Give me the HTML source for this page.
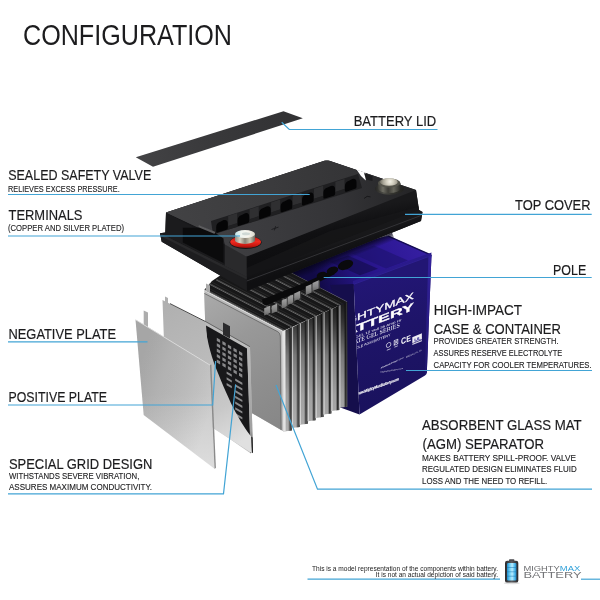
<!DOCTYPE html>
<html lang="en"><head><meta charset="utf-8"><title>Configuration</title>
<style>
html,body{margin:0;padding:0;background:#fff;}
body{width:600px;height:600px;overflow:hidden;font-family:'Liberation Sans', sans-serif;}
svg{display:block;will-change:transform;}
.t{font-family:'Liberation Sans', sans-serif;fill:#1c1c1e;stroke:#1c1c1e;stroke-width:.18px;}
.tt{stroke:none;}
.s{fill:#1c1c1e;stroke-width:.12px;}
.f{fill:#222;stroke:none;}
</style></head><body>
<svg width="600" height="600" viewBox="0 0 600 600">
<defs><linearGradient id="gLid" gradientUnits="userSpaceOnUse" x1="136" y1="160" x2="302" y2="115"><stop offset="0" stop-color="#434345"/><stop offset="0.5" stop-color="#38383a"/><stop offset="1" stop-color="#323234"/></linearGradient><linearGradient id="gCaseTop" gradientUnits="userSpaceOnUse" x1="320" y1="290" x2="425" y2="245"><stop offset="0" stop-color="#110a46"/><stop offset="0.3" stop-color="#22137a"/><stop offset="0.6" stop-color="#2c1794"/><stop offset="1" stop-color="#361fa2"/></linearGradient><clipPath id="cCT"><polygon points="280,262 388.3,235.8 431.5,255 353.7,285 280,305"/></clipPath><linearGradient id="gShd" gradientUnits="userSpaceOnUse" x1="330" y1="257.6" x2="333" y2="265"><stop offset="0" stop-color="#05030f"/><stop offset="1" stop-color="#05030f"/></linearGradient><linearGradient id="gShdO" gradientUnits="userSpaceOnUse" x1="330" y1="257" x2="333.2" y2="265"><stop offset="0" stop-color="#06041a" stop-opacity=".9"/><stop offset="1" stop-color="#06041a" stop-opacity="0"/></linearGradient><linearGradient id="gCaseF" gradientUnits="userSpaceOnUse" x1="375" y1="280" x2="400" y2="400"><stop offset="0" stop-color="#221674"/><stop offset="0.4" stop-color="#1e1469"/><stop offset="1" stop-color="#1a125e"/></linearGradient><linearGradient id="gCaseE" gradientUnits="userSpaceOnUse" x1="0" y1="256" x2="0" y2="375"><stop offset="0" stop-color="#33229c"/><stop offset="0.5" stop-color="#2a1c88"/><stop offset="1" stop-color="#20166c"/></linearGradient><clipPath id="cFace"><polygon points="354.2,283.5 431,255.5 426.8,375 359.5,414.5"/></clipPath><linearGradient id="gFin" gradientUnits="userSpaceOnUse" x1="0" y1="300" x2="0" y2="432"><stop offset="0" stop-color="#171717"/><stop offset="0.16" stop-color="#333333"/><stop offset="0.42" stop-color="#787878"/><stop offset="0.72" stop-color="#a0a0a0"/><stop offset="1" stop-color="#b0b0b0"/></linearGradient><linearGradient id="gFinL" gradientUnits="userSpaceOnUse" x1="0" y1="300" x2="0" y2="432"><stop offset="0" stop-color="#9a9a9a"/><stop offset="0.4" stop-color="#c4c4c4"/><stop offset="1" stop-color="#d8d8d8"/></linearGradient><clipPath id="cTop"><polygon points="204.3,290 283,331 347.5,301.6 292,273 240,262 212,281"/></clipPath><linearGradient id="gFinD" gradientUnits="userSpaceOnUse" x1="0" y1="300" x2="0" y2="432"><stop offset="0" stop-color="#0e0e0e"/><stop offset="0.5" stop-color="#1c1c1c"/><stop offset="1" stop-color="#3a3a3a"/></linearGradient><linearGradient id="gTab" gradientUnits="objectBoundingBox" x1="0" y1="0" x2="0" y2="1"><stop offset="0" stop-color="#a4a4a4"/><stop offset="0.6" stop-color="#858585"/><stop offset="1" stop-color="#666"/></linearGradient><linearGradient id="gSep" gradientUnits="userSpaceOnUse" x1="210" y1="295" x2="290" y2="420"><stop offset="0" stop-color="#a9a9a9"/><stop offset="0.35" stop-color="#989898"/><stop offset="0.7" stop-color="#8e8e8e"/><stop offset="1" stop-color="#878787"/></linearGradient><linearGradient id="gPosE" gradientUnits="userSpaceOnUse" x1="0" y1="347" x2="0" y2="452"><stop offset="0" stop-color="#b9b9b9"/><stop offset="0.8" stop-color="#a0a0a0"/><stop offset="1" stop-color="#3a3a3a"/></linearGradient><linearGradient id="gPos" gradientUnits="userSpaceOnUse" x1="165" y1="305" x2="245" y2="440"><stop offset="0" stop-color="#b0b0b0"/><stop offset="0.45" stop-color="#bbbbbb"/><stop offset="0.75" stop-color="#c8c8c8"/><stop offset="1" stop-color="#e0e0e0"/></linearGradient><linearGradient id="gSh" gradientUnits="objectBoundingBox" x1="0" y1="0" x2="1" y2="0"><stop offset="0" stop-color="#000"/><stop offset="1" stop-color="#000"/></linearGradient><linearGradient id="gNeg" gradientUnits="userSpaceOnUse" x1="136" y1="375" x2="214" y2="402"><stop offset="0" stop-color="#b4b4b4"/><stop offset="0.3" stop-color="#c0c0c0"/><stop offset="0.65" stop-color="#cbcbcb"/><stop offset="1" stop-color="#dadada"/></linearGradient><linearGradient id="gNegV" gradientUnits="userSpaceOnUse" x1="0" y1="320" x2="0" y2="468"><stop offset="0" stop-color="#000"/><stop offset="0.5" stop-color="#000"/><stop offset="1" stop-color="#fff"/></linearGradient><linearGradient id="gRF" gradientUnits="userSpaceOnUse" x1="330" y1="215" x2="336" y2="245"><stop offset="0" stop-color="#19191b"/><stop offset="0.5" stop-color="#101012"/><stop offset="1" stop-color="#0e0e10"/></linearGradient><linearGradient id="gRefl" gradientUnits="objectBoundingBox" x1="0" y1="0" x2="0" y2="1"><stop offset="0" stop-color="#2a2a2c"/><stop offset="1" stop-color="#1a1a1c"/></linearGradient><linearGradient id="gFl" gradientUnits="userSpaceOnUse" x1="330" y1="245" x2="334" y2="258"><stop offset="0" stop-color="#18181a"/><stop offset="0.35" stop-color="#131315"/><stop offset="1" stop-color="#0f0f11"/></linearGradient><linearGradient id="gTop" gradientUnits="userSpaceOnUse" x1="170" y1="215" x2="410" y2="190"><stop offset="0" stop-color="#414144"/><stop offset="0.35" stop-color="#3c3c3f"/><stop offset="0.7" stop-color="#343437"/><stop offset="1" stop-color="#252527"/></linearGradient><linearGradient id="gPlat" gradientUnits="userSpaceOnUse" x1="170" y1="215" x2="355" y2="172"><stop offset="0" stop-color="#424244"/><stop offset="0.5" stop-color="#3c3c3e"/><stop offset="1" stop-color="#343436"/></linearGradient><linearGradient id="gW2" gradientUnits="userSpaceOnUse" x1="375" y1="0" x2="404" y2="0"><stop offset="0" stop-color="#262624"/><stop offset="0.3" stop-color="#4c4c46"/><stop offset="0.6" stop-color="#34342f"/><stop offset="1" stop-color="#222220"/></linearGradient><linearGradient id="gB2" gradientUnits="userSpaceOnUse" x1="378" y1="0" x2="400.5" y2="0"><stop offset="0" stop-color="#3a3a35"/><stop offset="0.22" stop-color="#6e6d63"/><stop offset="0.45" stop-color="#3d3c36"/><stop offset="0.7" stop-color="#66655b"/><stop offset="1" stop-color="#2c2c28"/></linearGradient><radialGradient id="gB2t" gradientUnits="userSpaceOnUse" cx="390" cy="181.6" r="8.5"><stop offset="0" stop-color="#f4f1e6"/><stop offset="0.4" stop-color="#d5d1c2"/><stop offset="0.8" stop-color="#aaa698"/><stop offset="1" stop-color="#8b887b"/></radialGradient><linearGradient id="gRed" gradientUnits="userSpaceOnUse" x1="0" y1="236" x2="0" y2="248.5"><stop offset="0" stop-color="#b51a14"/><stop offset="0.45" stop-color="#ef2a20"/><stop offset="0.8" stop-color="#c4160f"/><stop offset="1" stop-color="#6e0d0a"/></linearGradient><linearGradient id="gB1" gradientUnits="userSpaceOnUse" x1="235" y1="0" x2="255" y2="0"><stop offset="0" stop-color="#8f8f86"/><stop offset="0.25" stop-color="#d7d2c2"/><stop offset="0.5" stop-color="#8b8578"/><stop offset="0.75" stop-color="#c9c2ae"/><stop offset="1" stop-color="#6d6a62"/></linearGradient><linearGradient id="gB1t" gradientUnits="userSpaceOnUse" x1="235" y1="0" x2="255" y2="0"><stop offset="0" stop-color="#bfe3ea"/><stop offset="0.3" stop-color="#eef3ee"/><stop offset="0.65" stop-color="#f8f6ee"/><stop offset="1" stop-color="#d9d6cb"/></linearGradient><linearGradient id="gLgB" gradientUnits="userSpaceOnUse" x1="505" y1="0" x2="518.3" y2="0"><stop offset="0" stop-color="#2a2a2c"/><stop offset="0.5" stop-color="#5a5a5e"/><stop offset="1" stop-color="#2a2a2c"/></linearGradient><linearGradient id="gLgC" gradientUnits="userSpaceOnUse" x1="507" y1="0" x2="516.4" y2="0"><stop offset="0" stop-color="#1f8fd0"/><stop offset="0.3" stop-color="#6fd0f6"/><stop offset="0.55" stop-color="#b8ecff"/><stop offset="0.8" stop-color="#54bdee"/><stop offset="1" stop-color="#1f86c6"/></linearGradient></defs>
<polygon points="135.8,157.2 283.5,111.2 302.8,118.3 153.0,166.8" fill="url(#gLid)"/>
<polygon points="280.0,262.0 388.3,235.8 431.5,255.0 431.0,258.0 353.7,285.0 350.0,305.0 280.0,305.0" fill="url(#gCaseTop)"/>
<g clip-path="url(#cCT)">
<polygon points="352.0,253.5 374.0,245.6 408.0,260.5 386.0,268.5" fill="#1b126a" opacity="0.55"/>
<polygon points="396.0,238.0 412.0,232.2 442.0,245.4 426.0,251.2" fill="#1f1474" opacity="0.4"/>
<polygon points="330.0,262.0 348.0,255.5 378.0,268.7 360.0,275.2" fill="#120b4a" opacity="0.6"/>
</g>
<path d="M388.3 236.2L431.3 255.2" stroke="#140c52" stroke-width="1.4" fill="none"/>
<polygon points="285.0,275.7 392.0,232.7 395.0,240.0 288.0,284.0" fill="url(#gShdO)"/>
<polygon points="353.0,281.0 431.5,252.5 431.0,256.0 353.0,284.5" fill="#2a1a8c"/>
<polygon points="339.0,290.0 353.7,284.0 359.5,414.5 339.0,407.0" fill="#150e4c"/>
<polygon points="330.0,285.0 353.7,284.0 353.0,310.0 339.0,310.0" fill="#150e4c"/>
<path d="M353.7 284L431.5 255L426.8 372.5Q426.7 374.6 425 375.6L359.5 414.5Z" fill="url(#gCaseF)"/>
<polygon points="428.4,256.2 431.5,255.0 426.8,373.0 424.8,374.2" fill="url(#gCaseE)"/>
<path d="M353.7 284.3L431.3 255.5" stroke="#2f2092" stroke-width="1.2" fill="none"/>
<g clip-path="url(#cFace)">
<text transform="matrix(1 -0.392 0 1 413.8 298.6)" font-family="'Liberation Sans', sans-serif" font-weight="normal" font-size="9.4" text-anchor="end" fill="#fff" textLength="82.5" lengthAdjust="spacingAndGlyphs" stroke="#fff" stroke-width=".25">MIGHTYMAX</text>
<text transform="matrix(1 -0.392 0 1 413.8 309.6)" font-family="'Liberation Sans', sans-serif" font-weight="bold" font-size="10.3" text-anchor="end" fill="#fff" textLength="81.5" lengthAdjust="spacingAndGlyphs" stroke="#fff" stroke-width=".3">BATTERY</text>
<text transform="matrix(1 -0.377 0 1 401.5 320.9)" font-family="'Liberation Sans', sans-serif" font-weight="normal" font-size="3.2" text-anchor="end" fill="#fff" textLength="64" lengthAdjust="spacingAndGlyphs">ML35-12GEL  12 Volt 35 Amp Hr</text>
<text transform="matrix(1 -0.38 0 1 399.8 326.7)" font-family="'Liberation Serif', serif" font-weight="normal" font-size="5.9" text-anchor="end" fill="#fff" textLength="53" lengthAdjust="spacingAndGlyphs">PLATE GEL SERIES</text>
<text transform="matrix(1 -0.385 0 1 390.5 335.9)" font-family="'Liberation Sans', sans-serif" font-weight="normal" font-size="3.4" text-anchor="end" fill="#fff" textLength="51" lengthAdjust="spacingAndGlyphs">DEEP CYCLE AGM BATTERY</text>
<text transform="matrix(1 -0.4 0 1 410.9 340.6)" font-family="'Liberation Sans', sans-serif" font-weight="bold" font-size="8.6" text-anchor="end" fill="#fff" textLength="9.8" lengthAdjust="spacingAndGlyphs">CE</text>
<g transform="matrix(1 -0.4 0 1 412.3 337.2)"><rect x="0" y="0" width="9.6" height="6" fill="#fff" opacity=".92"/><rect x="0" y="6.6" width="9.6" height="1.2" fill="#fff" opacity=".8"/></g>
<text transform="matrix(1 -0.4 0 1 421.2 339.3)" font-family="'Liberation Sans', sans-serif" font-weight="bold" font-size="4.6" text-anchor="end" fill="#2a2290" textLength="7" lengthAdjust="spacingAndGlyphs">UL</text>
<g transform="matrix(1 -0.4 0 1 386 349)" fill="none" stroke="#fff" stroke-width="0.7" opacity=".85"><circle cx="2.6" cy="-3" r="2.3"/><path d="M0.8 1.6h3.8"/></g>
<g transform="matrix(1 -0.4 0 1 393.6 346.5)" fill="none" stroke="#fff" stroke-width="0.7" opacity=".85"><rect x="0.6" y="-5.6" width="3.6" height="4.6"/><path d="M0.4 -5.8l4 4.8M4.4 -5.8l-4 4.8M0.8 1h3.4"/></g>
<text transform="matrix(1 -0.46 0 1 397 361.2)" font-family="'Liberation Sans', sans-serif" font-weight="normal" font-size="1.9" text-anchor="end" fill="#fff" textLength="16" lengthAdjust="spacingAndGlyphs" opacity=".8">Manufactured by:</text>
<text transform="matrix(1 -0.46 0 1 404.2 357.9)" font-family="'Liberation Sans', sans-serif" font-weight="normal" font-size="1.9" text-anchor="end" fill="#fff" textLength="23.5" lengthAdjust="spacingAndGlyphs" opacity=".8">A Trademark of Upstart Battery</text>
<text transform="matrix(1 -0.46 0 1 422 350.6)" font-family="'Liberation Sans', sans-serif" font-weight="normal" font-size="1.9" text-anchor="end" fill="#fff" textLength="16" lengthAdjust="spacingAndGlyphs" opacity=".8">BROOKLYN, NY</text>
<text transform="matrix(1 -0.17 0 1 403 369)" font-family="'Liberation Sans', sans-serif" font-weight="normal" font-size="1.9" text-anchor="end" fill="#fff" textLength="22.5" lengthAdjust="spacingAndGlyphs" opacity=".8">MightyMaxBattery.com</text>
<text transform="matrix(1 -0.358 0 1 398.9 380.2)" font-family="'Liberation Sans', sans-serif" font-weight="bold" font-size="4.0" text-anchor="end" fill="#fff" textLength="43" lengthAdjust="spacingAndGlyphs" stroke="#fff" stroke-width=".15">www.MightyMaxBattery.com</text>
</g>
<polygon points="204.3,290.0 283.0,331.0 347.0,302.0 292.0,273.0 240.0,262.0 212.0,281.0" fill="#171718"/>
<g clip-path="url(#cTop)">
<path d="M284.3 330.9L200.3 287.2" stroke="#8c8c8c" stroke-width="0.7" fill="none"/>
<path d="M285.2 330.4L201.2 286.8" stroke="#484848" stroke-width="0.9" fill="none"/>
<path d="M287.6 329.3L203.6 285.7" stroke="#2b2b2b" stroke-width="0.8" fill="none"/>
<path d="M292.2 327.2L208.2 283.5" stroke="#8c8c8c" stroke-width="0.7" fill="none"/>
<path d="M293.1 326.8L209.1 283.1" stroke="#484848" stroke-width="0.9" fill="none"/>
<path d="M295.5 325.7L211.5 282.0" stroke="#2b2b2b" stroke-width="0.8" fill="none"/>
<path d="M300.1 323.6L216.1 279.9" stroke="#8c8c8c" stroke-width="0.7" fill="none"/>
<path d="M301.0 323.2L217.0 279.5" stroke="#484848" stroke-width="0.9" fill="none"/>
<path d="M303.4 322.1L219.4 278.4" stroke="#2b2b2b" stroke-width="0.8" fill="none"/>
<path d="M308.0 320.0L224.0 276.3" stroke="#8c8c8c" stroke-width="0.7" fill="none"/>
<path d="M308.9 319.5L224.9 275.9" stroke="#484848" stroke-width="0.9" fill="none"/>
<path d="M311.3 318.4L227.3 274.8" stroke="#2b2b2b" stroke-width="0.8" fill="none"/>
<path d="M315.9 316.3L231.9 272.6" stroke="#8c8c8c" stroke-width="0.7" fill="none"/>
<path d="M316.8 315.9L232.8 272.2" stroke="#484848" stroke-width="0.9" fill="none"/>
<path d="M319.2 314.8L235.2 271.1" stroke="#2b2b2b" stroke-width="0.8" fill="none"/>
<path d="M323.8 312.7L239.8 269.0" stroke="#8c8c8c" stroke-width="0.7" fill="none"/>
<path d="M324.7 312.3L240.7 268.6" stroke="#484848" stroke-width="0.9" fill="none"/>
<path d="M327.1 311.2L243.1 267.5" stroke="#2b2b2b" stroke-width="0.8" fill="none"/>
<path d="M331.7 309.1L247.7 265.4" stroke="#8c8c8c" stroke-width="0.7" fill="none"/>
<path d="M332.6 308.6L248.6 265.0" stroke="#484848" stroke-width="0.9" fill="none"/>
<path d="M335.0 307.5L251.0 263.9" stroke="#2b2b2b" stroke-width="0.8" fill="none"/>
<path d="M339.6 305.4L255.6 261.7" stroke="#8c8c8c" stroke-width="0.7" fill="none"/>
<path d="M340.5 305.0L256.5 261.3" stroke="#484848" stroke-width="0.9" fill="none"/>
<path d="M342.9 303.9L258.9 260.2" stroke="#2b2b2b" stroke-width="0.8" fill="none"/>
<path d="M347.5 301.8L263.5 258.1" stroke="#8c8c8c" stroke-width="0.7" fill="none"/>
<path d="M348.4 301.4L264.4 257.7" stroke="#484848" stroke-width="0.9" fill="none"/>
<path d="M350.8 300.3L266.8 256.6" stroke="#2b2b2b" stroke-width="0.8" fill="none"/>
</g>
<polygon points="284.0,331.0 291.9,327.3 291.9,430.5 284.0,431.5" fill="url(#gFin)"/>
<polygon points="284.0,331.0 285.2,330.4 285.2,431.4 284.0,431.5" fill="url(#gFinL)"/>
<polygon points="288.6,328.9 289.5,328.5 289.5,431.0 288.6,431.0" fill="#000" opacity=".25"/>
<polygon points="289.5,328.5 291.9,327.3 291.9,430.5 289.5,430.7" fill="url(#gFinD)"/>
<polygon points="290.6,328.0 291.2,327.7 291.2,430.6 290.6,430.6" fill="#8a8a8a" opacity=".55"/>
<polygon points="291.9,327.4 299.8,323.7 299.8,427.1 291.9,428.1" fill="url(#gFin)"/>
<polygon points="291.9,327.4 293.1,326.8 293.1,428.0 291.9,428.1" fill="url(#gFinL)"/>
<polygon points="296.5,325.2 297.4,324.8 297.4,427.6 296.5,427.6" fill="#000" opacity=".25"/>
<polygon points="297.4,324.8 299.8,323.7 299.8,427.1 297.4,427.3" fill="url(#gFinD)"/>
<polygon points="298.5,324.3 299.1,324.1 299.1,427.2 298.5,427.2" fill="#8a8a8a" opacity=".55"/>
<polygon points="299.8,323.7 307.8,320.1 307.8,423.7 299.8,424.7" fill="url(#gFin)"/>
<polygon points="299.8,323.7 301.0,323.2 301.0,424.6 299.8,424.7" fill="url(#gFinL)"/>
<polygon points="304.4,321.6 305.3,321.2 305.3,424.2 304.4,424.2" fill="#000" opacity=".25"/>
<polygon points="305.3,321.2 307.8,320.1 307.8,423.7 305.3,423.9" fill="url(#gFinD)"/>
<polygon points="306.4,320.7 307.0,320.4 307.0,423.8 306.4,423.8" fill="#8a8a8a" opacity=".55"/>
<polygon points="307.7,320.1 315.6,316.4 315.6,420.3 307.7,421.3" fill="url(#gFin)"/>
<polygon points="307.7,320.1 308.9,319.5 308.9,421.2 307.7,421.3" fill="url(#gFinL)"/>
<polygon points="312.3,318.0 313.2,317.6 313.2,420.8 312.3,420.8" fill="#000" opacity=".25"/>
<polygon points="313.2,317.6 315.6,316.4 315.6,420.3 313.2,420.5" fill="url(#gFinD)"/>
<polygon points="314.3,317.1 314.9,316.8 314.9,420.4 314.3,420.4" fill="#8a8a8a" opacity=".55"/>
<polygon points="315.6,316.5 323.6,312.8 323.6,416.9 315.6,417.9" fill="url(#gFin)"/>
<polygon points="315.6,316.5 316.8,315.9 316.8,417.8 315.6,417.9" fill="url(#gFinL)"/>
<polygon points="320.2,314.3 321.1,313.9 321.1,417.4 320.2,417.4" fill="#000" opacity=".25"/>
<polygon points="321.1,313.9 323.6,312.8 323.6,416.9 321.1,417.1" fill="url(#gFinD)"/>
<polygon points="322.2,313.4 322.8,313.2 322.8,417.0 322.2,417.0" fill="#8a8a8a" opacity=".55"/>
<polygon points="323.5,312.8 331.4,309.2 331.4,413.5 323.5,414.5" fill="url(#gFin)"/>
<polygon points="323.5,312.8 324.7,312.3 324.7,414.4 323.5,414.5" fill="url(#gFinL)"/>
<polygon points="328.1,310.7 329.0,310.3 329.0,414.0 328.1,414.0" fill="#000" opacity=".25"/>
<polygon points="329.0,310.3 331.4,309.2 331.4,413.5 329.0,413.7" fill="url(#gFinD)"/>
<polygon points="330.1,309.8 330.7,309.5 330.7,413.6 330.1,413.6" fill="#8a8a8a" opacity=".55"/>
<polygon points="331.4,309.2 339.3,305.5 339.3,410.1 331.4,411.1" fill="url(#gFin)"/>
<polygon points="331.4,309.2 332.6,308.6 332.6,411.0 331.4,411.1" fill="url(#gFinL)"/>
<polygon points="336.0,307.1 336.9,306.7 336.9,410.6 336.0,410.6" fill="#000" opacity=".25"/>
<polygon points="336.9,306.7 339.3,305.5 339.3,410.1 336.9,410.3" fill="url(#gFinD)"/>
<polygon points="338.0,306.2 338.6,305.9 338.6,410.2 338.0,410.2" fill="#8a8a8a" opacity=".55"/>
<polygon points="339.3,305.6 347.2,301.9 347.2,406.7 339.3,407.7" fill="url(#gFin)"/>
<polygon points="339.3,305.6 340.5,305.0 340.5,407.6 339.3,407.7" fill="url(#gFinL)"/>
<polygon points="343.9,303.4 344.8,303.0 344.8,407.2 343.9,407.2" fill="#000" opacity=".25"/>
<polygon points="344.8,303.0 347.2,301.9 347.2,406.7 344.8,406.9" fill="url(#gFinD)"/>
<polygon points="345.9,302.5 346.5,302.2 346.5,406.8 345.9,406.8" fill="#8a8a8a" opacity=".55"/>
<polygon points="283.0,331.0 285.3,330.0 285.6,431.0 284.0,431.7" fill="#e4e4e4"/>
<polygon points="262.0,299.5 304.0,283.0 332.0,270.5 335.0,274.0 309.0,287.0 266.0,305.5 263.0,304.0" fill="#0a0a0b"/>
<polygon points="264.2,308.2 270.0,305.8 270.0,313.1 264.2,315.5" fill="url(#gTab)"/>
<polygon points="270.0,305.8 271.2,306.3 271.2,313.4 270.0,313.1" fill="#3c3c3c"/>
<polygon points="271.7,305.9 277.2,303.6 277.2,311.2 271.7,313.5" fill="url(#gTab)"/>
<polygon points="277.2,303.6 278.4,304.1 278.4,311.5 277.2,311.2" fill="#3c3c3c"/>
<polygon points="281.7,300.5 286.9,298.3 286.9,306.3 281.7,308.5" fill="url(#gTab)"/>
<polygon points="286.9,298.3 288.1,298.8 288.1,306.6 286.9,306.3" fill="#3c3c3c"/>
<polygon points="287.7,296.9 293.3,294.5 293.3,302.6 287.7,305.0" fill="url(#gTab)"/>
<polygon points="293.3,294.5 294.5,295.0 294.5,302.9 293.3,302.6" fill="#3c3c3c"/>
<polygon points="294.2,293.4 300.0,291.0 300.0,298.6 294.2,301.0" fill="url(#gTab)"/>
<polygon points="300.0,291.0 301.2,291.5 301.2,298.9 300.0,298.6" fill="#3c3c3c"/>
<polygon points="305.8,286.5 311.7,284.0 311.7,292.5 305.8,295.0" fill="url(#gTab)"/>
<polygon points="311.7,284.0 312.9,284.5 312.9,292.8 311.7,292.5" fill="#3c3c3c"/>
<polygon points="312.5,282.9 318.8,280.3 318.8,288.4 312.5,291.0" fill="url(#gTab)"/>
<polygon points="318.8,280.3 320.0,280.8 320.0,288.7 318.8,288.4" fill="#3c3c3c"/>
<ellipse cx="345.5" cy="265" rx="8" ry="4.6" fill="#0a0a0c" transform="rotate(-20 345.5 265)"/>
<ellipse cx="332.5" cy="270.5" rx="6" ry="3.6" fill="#0a0a0c" transform="rotate(-20 332.5 270.5)"/>
<ellipse cx="321.5" cy="275" rx="5" ry="3" fill="#0a0a0c" transform="rotate(-20 321.5 275)"/>
<polygon points="204.3,290.0 283.0,331.0 284.0,431.7 207.0,387.0" fill="#b9b9b9"/>
<path d="M204.3 293.4L277.6 331.6Q280.2 333 280.3 336L281.2 430.1L207 387Z" fill="url(#gSep)"/>
<path d="M204.3 293.4L277.6 331.6Q280.2 333 280.3 336L281.2 430.1" stroke="#4e4e4e" stroke-width="0.8" fill="none" opacity=".8"/>
<path d="M204.3 290.4L282.6 331.2L283.6 431" stroke="#dedede" stroke-width="1" fill="none"/>
<polygon points="206.0,283.5 210.0,285.5 210.0,293.0 206.0,291.0" fill="#a9a9a9"/>
<polygon points="205.0,321.5 250.0,347.0 253.0,452.3 250.5,453.3 214.0,428.0" fill="#bcbcbc"/>
<path d="M205 321.2L250 346.7" stroke="#555" stroke-width="0.8" fill="none"/>
<polygon points="206.0,325.5 247.0,348.6 250.6,449.5 214.0,424.0" fill="#18181a"/>
<polygon points="216.8,337.8 220.1,339.7 220.1,342.8 216.8,340.9" fill="#88888a"/>
<polygon points="216.8,343.2 220.1,345.1 220.1,348.2 216.8,346.3" fill="#88888a"/>
<polygon points="216.8,348.6 220.1,350.5 220.1,353.6 216.8,351.7" fill="#88888a"/>
<polygon points="216.8,354.0 220.1,355.9 220.1,359.0 216.8,357.1" fill="#88888a"/>
<polygon points="216.8,359.4 220.1,361.3 220.1,364.4 216.8,362.5" fill="#88888a"/>
<polygon points="222.4,341.1 225.7,343.0 225.7,346.1 222.4,344.2" fill="#88888a"/>
<polygon points="222.4,346.5 225.7,348.4 225.7,351.5 222.4,349.6" fill="#88888a"/>
<polygon points="222.4,351.9 225.7,353.8 225.7,356.9 222.4,355.0" fill="#88888a"/>
<polygon points="222.4,357.3 225.7,359.2 225.7,362.3 222.4,360.4" fill="#88888a"/>
<polygon points="222.4,362.7 225.7,364.6 225.7,367.7 222.4,365.8" fill="#88888a"/>
<polygon points="227.9,344.5 231.2,346.4 231.2,349.5 227.9,347.6" fill="#88888a"/>
<polygon points="227.9,349.9 231.2,351.8 231.2,354.9 227.9,353.0" fill="#88888a"/>
<polygon points="227.9,355.3 231.2,357.2 231.2,360.3 227.9,358.4" fill="#88888a"/>
<polygon points="227.9,360.7 231.2,362.6 231.2,365.7 227.9,363.8" fill="#88888a"/>
<polygon points="227.9,366.1 231.2,368.0 231.2,371.1 227.9,369.2" fill="#88888a"/>
<polygon points="233.5,347.8 236.8,349.7 236.8,352.8 233.5,350.9" fill="#88888a"/>
<polygon points="233.5,353.2 236.8,355.1 236.8,358.2 233.5,356.3" fill="#88888a"/>
<polygon points="233.5,358.6 236.8,360.5 236.8,363.6 233.5,361.7" fill="#88888a"/>
<polygon points="233.5,364.0 236.8,365.9 236.8,369.0 233.5,367.1" fill="#88888a"/>
<polygon points="233.5,369.4 236.8,371.3 236.8,374.4 233.5,372.5" fill="#88888a"/>
<polygon points="239.0,351.1 242.3,353.0 242.3,356.1 239.0,354.2" fill="#88888a"/>
<polygon points="239.0,356.5 242.3,358.4 242.3,361.5 239.0,359.6" fill="#88888a"/>
<polygon points="239.0,361.9 242.3,363.8 242.3,366.9 239.0,365.0" fill="#88888a"/>
<polygon points="239.0,367.3 242.3,369.2 242.3,372.3 239.0,370.4" fill="#88888a"/>
<polygon points="239.0,372.7 242.3,374.6 242.3,377.7 239.0,375.8" fill="#88888a"/>
<polygon points="226.6,371.5 231.8,374.6 231.8,376.8 226.6,373.7" fill="#8a8a8c"/>
<polygon points="226.6,377.2 231.8,380.4 231.8,382.6 226.6,379.4" fill="#8a8a8c"/>
<polygon points="226.6,383.0 231.8,386.1 231.8,388.3 226.6,385.2" fill="#8a8a8c"/>
<polygon points="235.2,378.5 242.4,382.7 242.4,384.9 235.2,380.7" fill="#8a8a8c"/>
<polygon points="235.2,384.2 242.4,388.4 242.4,390.6 235.2,386.4" fill="#8a8a8c"/>
<polygon points="235.2,390.0 242.4,394.2 242.4,396.4 235.2,392.2" fill="#8a8a8c"/>
<polygon points="235.2,395.8 242.4,399.9 242.4,402.1 235.2,397.9" fill="#8a8a8c"/>
<polygon points="235.2,401.5 242.4,405.7 242.4,407.9 235.2,403.7" fill="#8a8a8c"/>
<polygon points="235.2,407.2 242.4,411.4 242.4,413.6 235.2,409.4" fill="#8a8a8c"/>
<polygon points="235.2,413.0 242.4,417.2 242.4,419.4 235.2,415.2" fill="#8a8a8c"/>
<polygon points="223.0,322.6 230.0,326.3 230.0,338.5 223.0,334.7" fill="#2b2b2d"/>
<polygon points="247.2,347.0 250.0,347.0 253.0,452.3 250.5,453.3" fill="url(#gPosE)"/>
<path d="M162.5 300L205 321.5C206 335 209.5 352 216.7 370C222 383 229 400 236 413C241 422 246.5 431 251.2 436.5L252 453.2L166 398Z" fill="url(#gPos)"/>
<polygon points="165.0,296.5 168.0,298.0 168.0,304.0 165.0,302.5" fill="#b0b0b0"/>
<path d="M170 303.6L205 321.3" stroke="#3a3a3a" stroke-width="0.9" fill="none"/>
<polygon points="251.2,436.5 252.6,437.5 253.0,452.3 252.0,453.2" fill="#222"/>
<polygon points="143.7,310.5 148.0,312.5 148.0,328.0 143.7,325.0" fill="#adadad"/>
<polygon points="135.5,319.5 210.0,365.0 214.5,468.7 143.7,415.0" fill="url(#gNeg)"/>
<polygon points="210.0,365.0 211.4,364.5 215.9,468.0 214.5,468.7" fill="#8a8a8a"/>
<path d="M135.8 319.9L210 365.2" stroke="#e6e6e6" stroke-width="1" fill="none"/>
<polygon points="135.5,319.5 210,365 214.5,468.7 143.7,415" fill="url(#gNegV)" opacity=".08"/>
<polygon points="166.0,212.5 325.0,160.6 328.5,160.4 416.0,190.0 419.0,210.0 422.5,212.0 421.0,221.0 247.0,291.0 161.7,241.7 160.0,233.3 165.3,232.5" fill="#18181a"/>
<polygon points="246.5,256.0 416.0,190.0 419.0,210.0 246.7,277.0" fill="url(#gRF)"/>
<polygon points="246.7,268.0 330.0,231.0 419.0,206.5 419.0,210.0 246.7,277.0" fill="#19191b" opacity=".6"/>
<polygon points="160.0,233.3 246.7,277.0 247.0,291.0 161.7,241.7" fill="#1d1d1f"/>
<polygon points="246.7,277.0 419.0,210.0 422.5,212.0 421.0,221.0 247.0,291.0" fill="url(#gFl)"/>
<path d="M246.7 281L421.5 215.3" stroke="#37373a" stroke-width="0.9" fill="none"/>
<path d="M160.3 233.6L246.7 277.2" stroke="#2c2c2e" stroke-width="1" fill="none"/>
<polygon points="166.0,212.5 246.5,256.0 246.7,277.0 160.0,233.3 165.3,232.5" fill="#1b1b1d"/>
<polygon points="224.5,244.0 246.5,256.0 246.7,277.0 224.5,265.8" fill="#2a2a2c"/>
<polygon points="160.0,233.3 246.7,277.0 246.8,279.6 160.4,236.0" fill="#29292b"/>
<path d="M166 212.5L324.5 160.8Q327 160 329.5 160.8L416 190L247.5 256.3Q246 256.6 244.5 255.5L224 244L198.5 227.8Z" fill="url(#gTop)"/>
<polygon points="166.3,212.6 324.5,160.9 329.5,160.9 356.0,169.9 358.0,174.1 211.0,221.0 198.5,227.6" fill="url(#gPlat)"/>
<polygon points="211.0,221.0 358.0,174.1 362.0,188.0 213.0,234.4" fill="#1f1f21"/>
<polygon points="228.2,216.0 237.2,213.1 237.2,223.2 228.2,226.0" fill="#2f2f31"/>
<polygon points="228.2,226.0 237.2,223.2 237.2,226.7 228.2,229.5" fill="#202022"/>
<path d="M216.2 233.0L216.2 227.3Q216.2 223.1 220.4 221.8L223.6 220.1Q227.8 219.1 227.8 223.6L227.8 227.9Q227.8 229.4 226.3 229.8L217.7 232.6Q216.2 233.0 216.2 231.5Z" fill="#050506"/>
<polygon points="249.6,209.2 258.7,206.3 258.7,216.3 249.6,219.2" fill="#2f2f31"/>
<polygon points="249.6,219.2 258.7,216.3 258.7,219.8 249.6,222.7" fill="#202022"/>
<path d="M237.6 226.2L237.6 220.4Q237.6 216.2 241.8 214.9L245.1 213.2Q249.2 212.2 249.2 216.7L249.2 221.0Q249.2 222.5 247.8 222.9L239.1 225.8Q237.6 226.2 237.6 224.7Z" fill="#050506"/>
<polygon points="271.1,202.4 280.1,199.5 280.1,209.5 271.1,212.4" fill="#2f2f31"/>
<polygon points="271.1,212.4 280.1,209.5 280.1,213.0 271.1,215.9" fill="#202022"/>
<path d="M259.1 219.4L259.1 213.6Q259.1 209.4 263.3 208.1L266.5 206.4Q270.7 205.4 270.7 209.9L270.7 214.2Q270.7 215.7 269.2 216.1L260.6 219.0Q259.1 219.4 259.1 217.9Z" fill="#050506"/>
<polygon points="292.6,195.5 301.6,192.6 301.6,202.7 292.6,205.6" fill="#2f2f31"/>
<polygon points="292.6,205.6 301.6,202.7 301.6,206.2 292.6,209.1" fill="#202022"/>
<path d="M280.6 212.6L280.6 206.7Q280.6 202.5 284.8 201.2L288.0 199.5Q292.2 198.5 292.2 203.0L292.2 207.4Q292.2 208.9 290.7 209.3L282.1 212.2Q280.6 212.6 280.6 211.1Z" fill="#050506"/>
<polygon points="314.0,188.7 323.1,185.8 323.1,195.9 314.0,198.7" fill="#2f2f31"/>
<polygon points="314.0,198.7 323.1,195.9 323.1,199.4 314.0,202.2" fill="#202022"/>
<path d="M302.0 205.8L302.0 199.9Q302.0 195.7 306.2 194.4L309.4 192.7Q313.6 191.7 313.6 196.2L313.6 200.6Q313.6 202.1 312.1 202.5L303.5 205.4Q302.0 205.8 302.0 204.3Z" fill="#050506"/>
<polygon points="335.4,181.8 344.5,178.9 344.5,189.0 335.4,191.9" fill="#2f2f31"/>
<polygon points="335.4,191.9 344.5,189.0 344.5,192.5 335.4,195.4" fill="#202022"/>
<path d="M323.4 198.9L323.4 193.1Q323.4 188.9 327.6 187.6L330.9 185.9Q335.1 184.9 335.1 189.4L335.1 193.8Q335.1 195.3 333.6 195.7L324.9 198.5Q323.4 198.9 323.4 197.4Z" fill="#050506"/>
<path d="M344.9 192.1L344.9 186.2Q344.9 182.0 349.1 180.7L352.3 179.0Q356.5 178.0 356.5 182.5L356.5 186.9Q356.5 188.4 355.0 188.8L346.4 191.7Q344.9 192.1 344.9 190.6Z" fill="#050506"/>
<polygon points="356.5,169.6 365.5,172.7 365.8,180.5 361.0,176.0" fill="#fff"/>
<polygon points="364.0,173.0 372.5,176.0 372.5,181.0 366.0,179.5" fill="#1c1c1e"/>
<polygon points="182.8,227.8 198.5,227.8 200.0,225.8 214.0,232.0 223.5,238.5 223.5,263.0 182.8,242.5" fill="#0b0b0c"/>
<path d="M199.5 226.5L214 232.5" stroke="#5c5c5e" stroke-width="2.2" stroke-linecap="round"/>
<polygon points="223.5,238.5 224.5,244.0 224.5,265.0 223.5,263.0" fill="#101012"/>
<path d="M271.5 229.5l7 -2.4M275.6 226.2l-1.2 4.2" stroke="#1c1c1e" stroke-width="0.9" fill="none"/>
<path d="M364 198.5q3 -3.5 6.5 -1.6" stroke="#151517" stroke-width="0.9" fill="none"/>
<ellipse cx="389.5" cy="188.8" rx="14.5" ry="6" fill="url(#gW2)"/>
<path d="M378 183V188.5A11.2 4.6 0 0 0 400.5 188.5V183Z" fill="url(#gB2)"/>
<ellipse cx="389.2" cy="183" rx="11.2" ry="4.6" fill="#55544b"/>
<ellipse cx="389" cy="182" rx="8.8" ry="3.8" fill="url(#gB2t)"/>
<ellipse cx="245.6" cy="242.3" rx="16" ry="6.6" fill="#151516"/>
<ellipse cx="245.6" cy="242" rx="15.4" ry="6.1" fill="url(#gRed)"/>
<path d="M235 234V240.3A10 3.6 0 0 0 255 240.3V234Z" fill="url(#gB1)"/>
<ellipse cx="245" cy="234" rx="10" ry="4" fill="url(#gB1t)"/>
<ellipse cx="246" cy="233.8" rx="4" ry="1.5" fill="#cfd8d4"/>
<rect x="509" y="559.2" width="5.4" height="2.4" rx="0.8" fill="#4a4a4e"/>
<rect x="505" y="560.8" width="13.3" height="21.8" rx="2.2" fill="url(#gLgB)"/>
<rect x="507" y="563" width="9.4" height="17.4" rx="1.2" fill="url(#gLgC)"/>
<rect x="507" y="567.2" width="9.4" height="0.7" fill="#1a78b4" opacity=".7"/>
<rect x="507" y="571.5" width="9.4" height="0.7" fill="#1a78b4" opacity=".7"/>
<rect x="507" y="575.8" width="9.4" height="0.7" fill="#1a78b4" opacity=".7"/>
<ellipse cx="511.7" cy="583.2" rx="8" ry="1" fill="#000" opacity=".12"/>
<text x="523.4" y="570.8" font-family="'Liberation Sans', sans-serif" font-size="6.5" textLength="56.8" lengthAdjust="spacingAndGlyphs"><tspan fill="#6b6c6f">MIGHTY</tspan><tspan fill="#2a9ed8">MAX</tspan></text>
<text x="523.4" y="577.5" font-family="'Liberation Sans', sans-serif" font-size="8.3" textLength="58.2" lengthAdjust="spacingAndGlyphs" fill="#747578">BATTERY</text>
<g fill="none" stroke="#42a4d5" stroke-width="1.2">
<path d="M8 194.5H309.7"/>
<path d="M8 236H240"/>
<path d="M8 341.8H147.5"/>
<path d="M8 405H212.7L215.6 361"/>
<path d="M8 493.9H223.5L235.6 384.5"/>
<path d="M281.7 122.3L289.3 129.5H437.5"/>
<path d="M405 214.4H591.7"/>
<path d="M323.7 277.5H591.7"/>
<path d="M406 370.5H592"/>
<path d="M276 385L317.5 489.1H592"/>
<path d="M307.5 579.2H500"/>
<path d="M581 579.2H600"/>
</g>
<g style="opacity:.999">
<text x="23" y="45" font-size="29.7" textLength="209.0" lengthAdjust="spacingAndGlyphs" class="t tt">CONFIGURATION</text>
<text x="8.2" y="180.3" font-size="14.9" textLength="143.1" lengthAdjust="spacingAndGlyphs" class="t">SEALED SAFETY VALVE</text>
<text x="8" y="191.7" font-size="8.6" textLength="111.7" lengthAdjust="spacingAndGlyphs" class="t s">RELIEVES EXCESS PRESSURE.</text>
<text x="8.5" y="219.5" font-size="14.9" textLength="74.0" lengthAdjust="spacingAndGlyphs" class="t">TERMINALS</text>
<text x="8" y="231.2" font-size="8.6" textLength="116.0" lengthAdjust="spacingAndGlyphs" class="t s">(COPPER AND SILVER PLATED)</text>
<text x="8.5" y="338.7" font-size="14.9" textLength="107.5" lengthAdjust="spacingAndGlyphs" class="t">NEGATIVE PLATE</text>
<text x="8.5" y="401.7" font-size="14.9" textLength="98.5" lengthAdjust="spacingAndGlyphs" class="t">POSITIVE PLATE</text>
<text x="8.9" y="468.9" font-size="14.9" textLength="143.5" lengthAdjust="spacingAndGlyphs" class="t">SPECIAL GRID DESIGN</text>
<text x="8.9" y="479" font-size="8.6" textLength="130.5" lengthAdjust="spacingAndGlyphs" class="t s">WITHSTANDS SEVERE VIBRATION,</text>
<text x="9" y="489.9" font-size="8.6" textLength="143.0" lengthAdjust="spacingAndGlyphs" class="t s">ASSURES MAXIMUM CONDUCTIVITY.</text>
<text x="353.7" y="125.5" font-size="14.9" textLength="82.5" lengthAdjust="spacingAndGlyphs" class="t">BATTERY LID</text>
<text x="515" y="210" font-size="14.9" textLength="75.5" lengthAdjust="spacingAndGlyphs" class="t">TOP COVER</text>
<text x="553" y="275" font-size="14.9" textLength="33.2" lengthAdjust="spacingAndGlyphs" class="t">POLE</text>
<text x="433.7" y="314.7" font-size="14.9" textLength="88.3" lengthAdjust="spacingAndGlyphs" class="t">HIGH-IMPACT</text>
<text x="433.7" y="333.5" font-size="14.9" textLength="127.3" lengthAdjust="spacingAndGlyphs" class="t">CASE &amp; CONTAINER</text>
<text x="433.6" y="344.4" font-size="8.6" textLength="125.0" lengthAdjust="spacingAndGlyphs" class="t s">PROVIDES GREATER STRENGTH.</text>
<text x="433.6" y="356" font-size="8.6" textLength="128.6" lengthAdjust="spacingAndGlyphs" class="t s">ASSURES RESERVE ELECTROLYTE</text>
<text x="433.6" y="367.6" font-size="8.6" textLength="158.0" lengthAdjust="spacingAndGlyphs" class="t s">CAPACITY FOR COOLER TEMPERATURES.</text>
<text x="421.9" y="429.8" font-size="14.9" textLength="159.8" lengthAdjust="spacingAndGlyphs" class="t">ABSORBENT GLASS MAT</text>
<text x="422.5" y="449.1" font-size="14.9" textLength="121.5" lengthAdjust="spacingAndGlyphs" class="t">(AGM) SEPARATOR</text>
<text x="422" y="460.6" font-size="8.6" textLength="154.0" lengthAdjust="spacingAndGlyphs" class="t s">MAKES BATTERY SPILL-PROOF. VALVE</text>
<text x="422" y="472.2" font-size="8.6" textLength="154.7" lengthAdjust="spacingAndGlyphs" class="t s">REGULATED DESIGN ELIMINATES FLUID</text>
<text x="422" y="483.7" font-size="8.6" textLength="125.3" lengthAdjust="spacingAndGlyphs" class="t s">LOSS AND THE NEED TO REFILL.</text>
<text x="312" y="570.6" font-size="6.6" textLength="186.0" lengthAdjust="spacingAndGlyphs" class="t f">This is a model representation of the components within battery.</text>
<text x="375.7" y="577.1" font-size="6.6" textLength="122.3" lengthAdjust="spacingAndGlyphs" class="t f">It is not an actual depiction of said battery.</text>
</g>
</svg>
</body></html>
